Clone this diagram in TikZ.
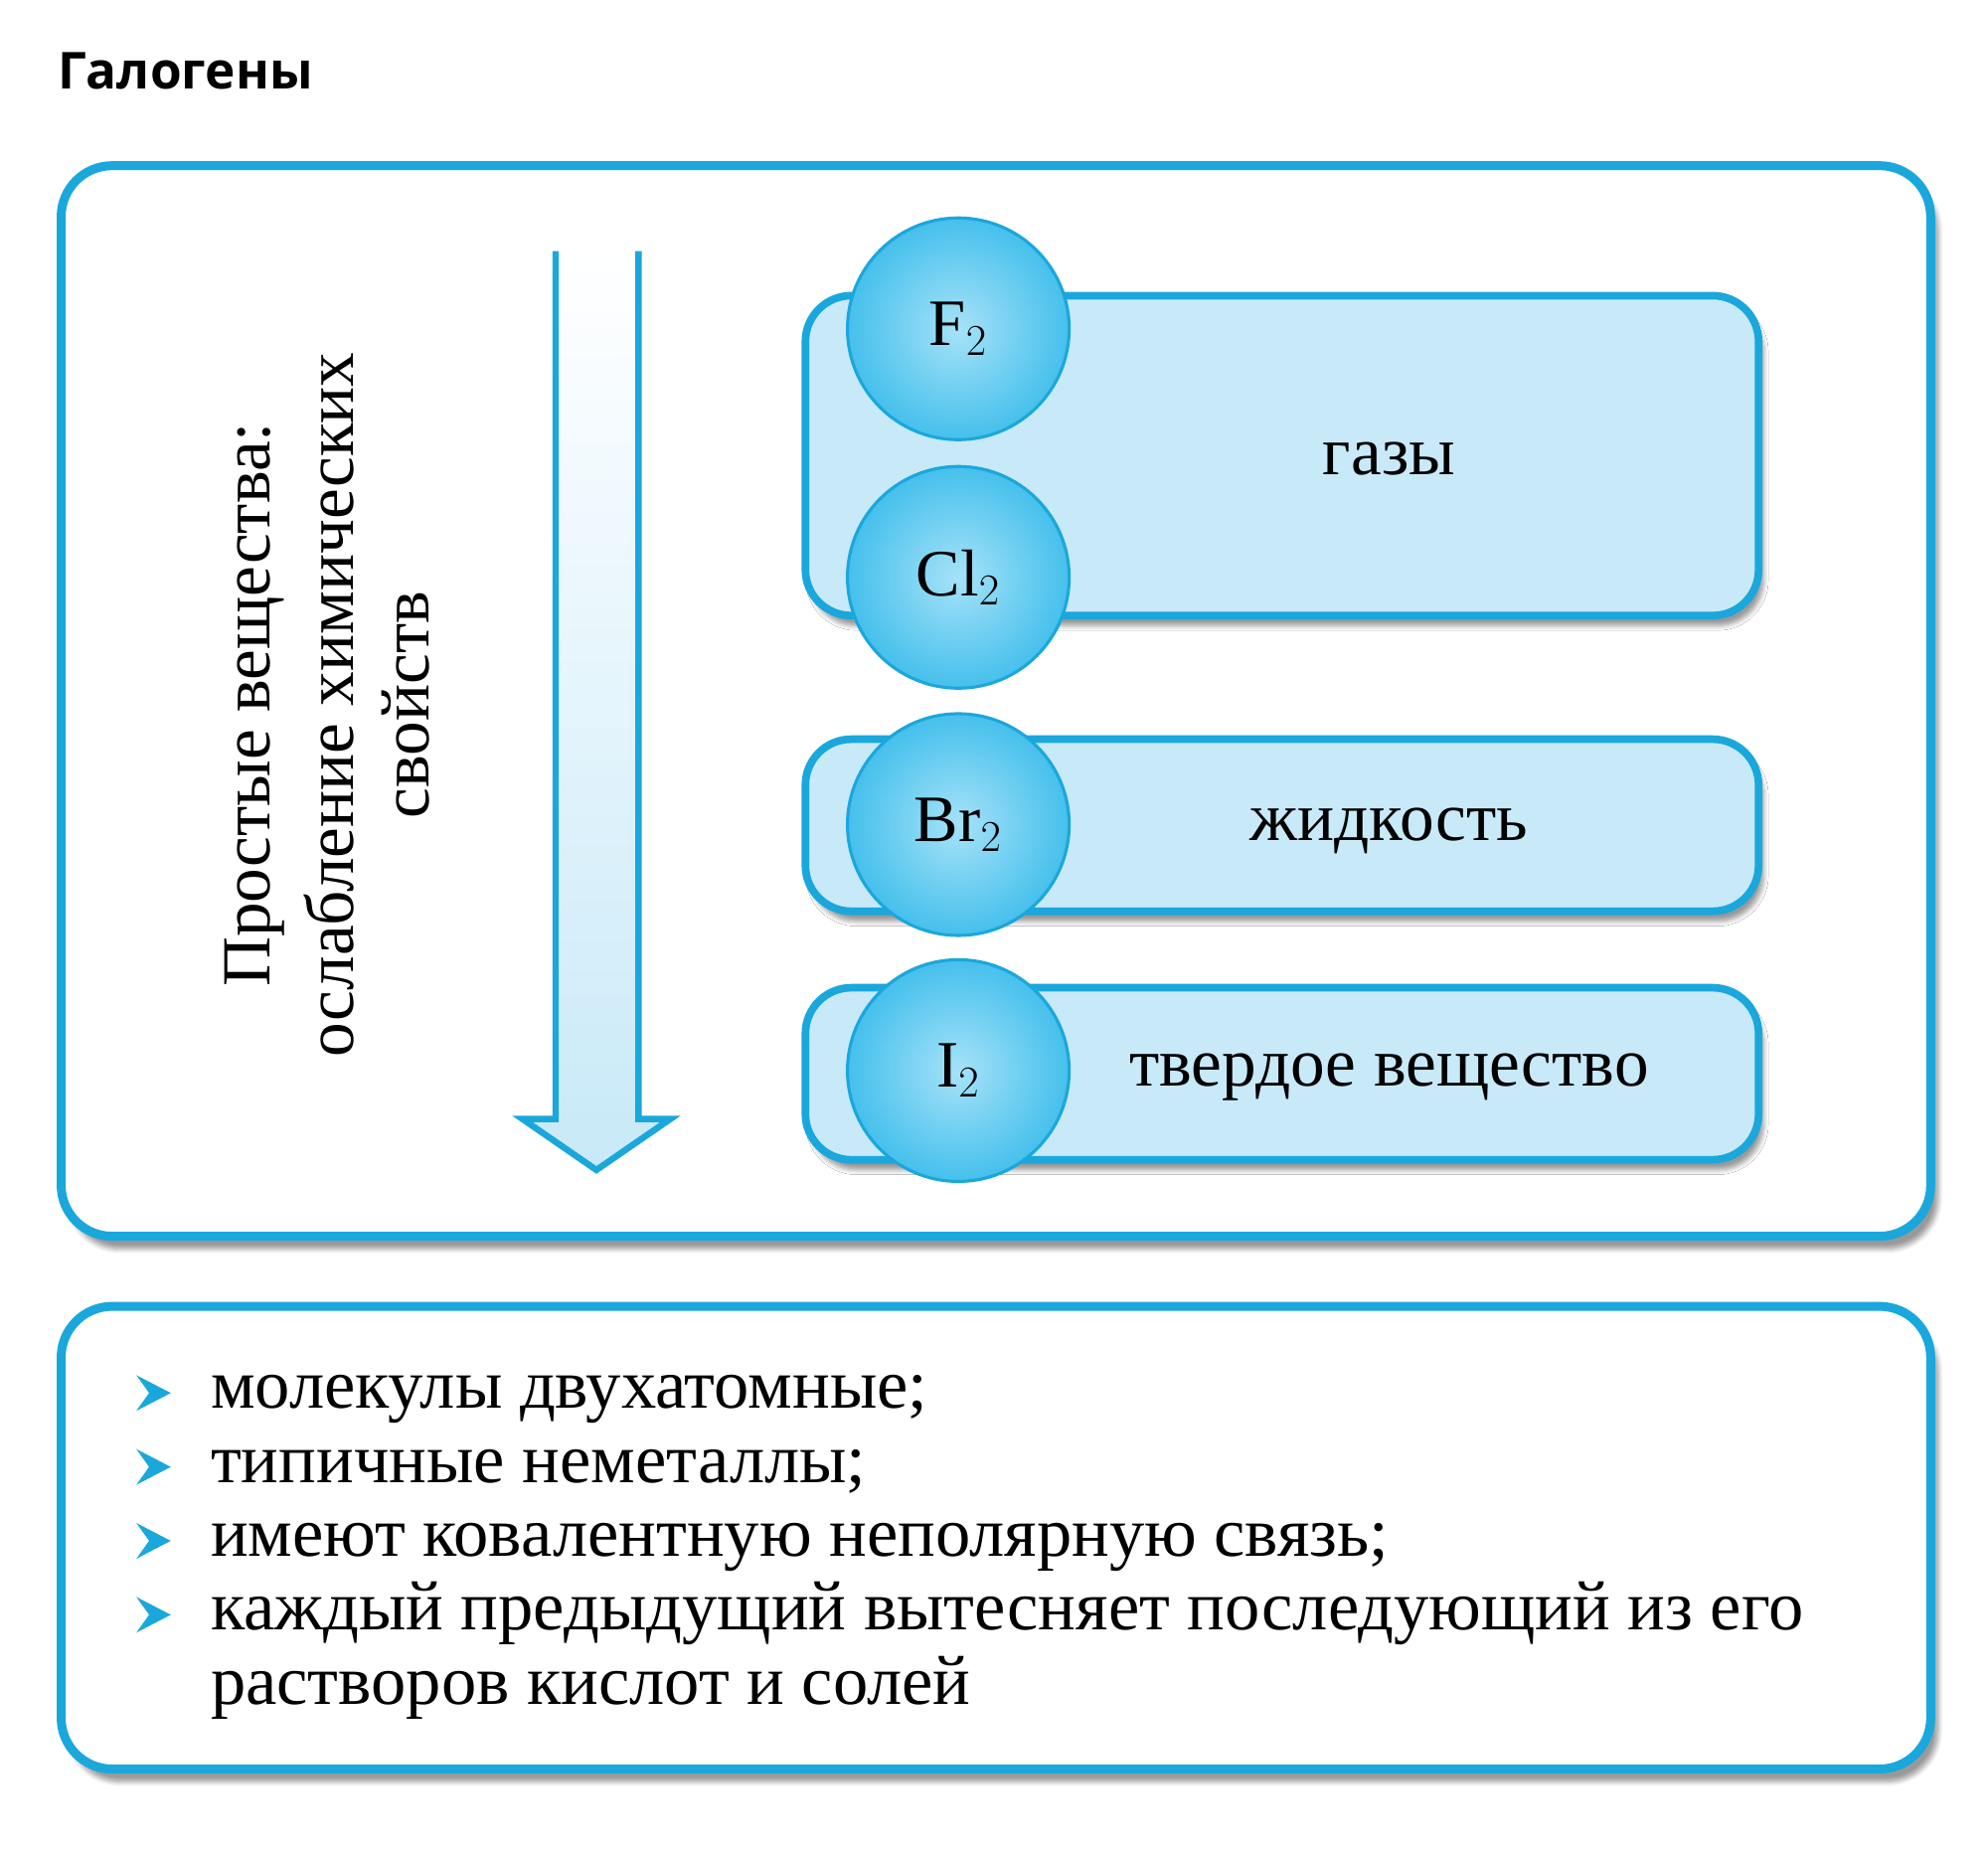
\documentclass[tikz,border=0pt]{standalone}
\usepackage{fontspec}
\setmainfont{Liberation Serif}
\newfontfamily\titlefont{Open Sans}
\usetikzlibrary{shadows.blur}
\definecolor{cy}{HTML}{1AA7DC}
\definecolor{barfill}{HTML}{C8E9F8}
\definecolor{ballin}{HTML}{A6E2F8}
\definecolor{ballout}{HTML}{45C0EC}
\tikzset{
  frame/.style={draw=cy,line width=3.5pt,rounded corners=20pt,fill=white,blur shadow={shadow xshift=3pt,shadow yshift=-5pt,shadow blur steps=6}},
  bar/.style={draw=cy,line width=3pt,rounded corners=18pt,fill=barfill,blur shadow={shadow xshift=2pt,shadow yshift=-4pt,shadow blur steps=5}},
  ball/.style={circle,draw=cy,line width=1.2pt,minimum size=87pt,inner sep=0pt,inner color=ballin,outer color=ballout,font=\fontsize{26}{30}\selectfont},
  lbl/.style={font=\fontsize{27}{30}\selectfont},
  btxt/.style={anchor=base west,inner sep=0pt,font=\fontsize{27.5}{30}\selectfont},
  chev/.style={fill=cy,draw=none},
  side/.style={rotate=90,font=\fontsize{27}{30}\selectfont,inner sep=0pt}
}
\begin{document}
\begin{tikzpicture}[x=0.5pt,y=-0.5pt]
\useasboundingbox (0,0) rectangle (1560,1454);
\node[anchor=base west,inner sep=0pt,font=\titlefont\bfseries\fontsize{20}{24}\selectfont] (title) at (45,70) {Галогены};
\path[frame] (48,130) rectangle (1515,970);
\path[frame] (48,1025) rectangle (1515,1388);
% arrow
\path[top color=white,bottom color=barfill] (436,197) -- (436,878) -- (410,878) -- (468,918) -- (526,878) -- (501,878) -- (501,197) -- cycle;
\coordinate (a1) at (436,197); \coordinate (a2) at (501,197);
\draw[cy,line width=2.5pt,line join=miter] (a1) -- (436,878) -- (410,878) -- (468,918) -- (526,878) -- (501,878) -- (a2);
\node[side] (s1) at (200,553) {Простые вещества:};
\node[side] (s2) at (258,553) {ослабление химических};
\node[side] (s3) at (318,553) {свойств};
% bars
\path[bar] (632,232) rectangle (1380,483);
\path[bar] (632,580) rectangle (1380,715);
\path[bar] (632,775) rectangle (1380,910);
\node[lbl] (g) at (1090,360) {газы};
\node[lbl] (l) at (1090,652) {жидкость};
\node[lbl] (s) at (1090,845) {твердое вещество};
\node[ball] (F) at (752,258) {F$_2$};
\node[ball] (Cl) at (752,453) {Cl$_2$};
\node[ball] (Br) at (752,647) {Br$_2$};
\node[ball] (I) at (752,840) {I$_2$};
% bullets
\foreach \y/\t [count=\i] in {1105/{молекулы двухатомные;},1163/{типичные неметаллы;},1221/{имеют ковалентную неполярную связь;},1279/{каждый предыдущий вытесняет последующий из его}}{
  \path[chev] (107,\y-26) -- (134,\y-12) -- (107,\y+2) -- (117,\y-12) -- cycle;
  \node[btxt] (b\i) at (165,\y) {\t};
}
\node[btxt] (b5) at (165,1337) {растворов кислот и солей};
\end{tikzpicture}
\end{document}
